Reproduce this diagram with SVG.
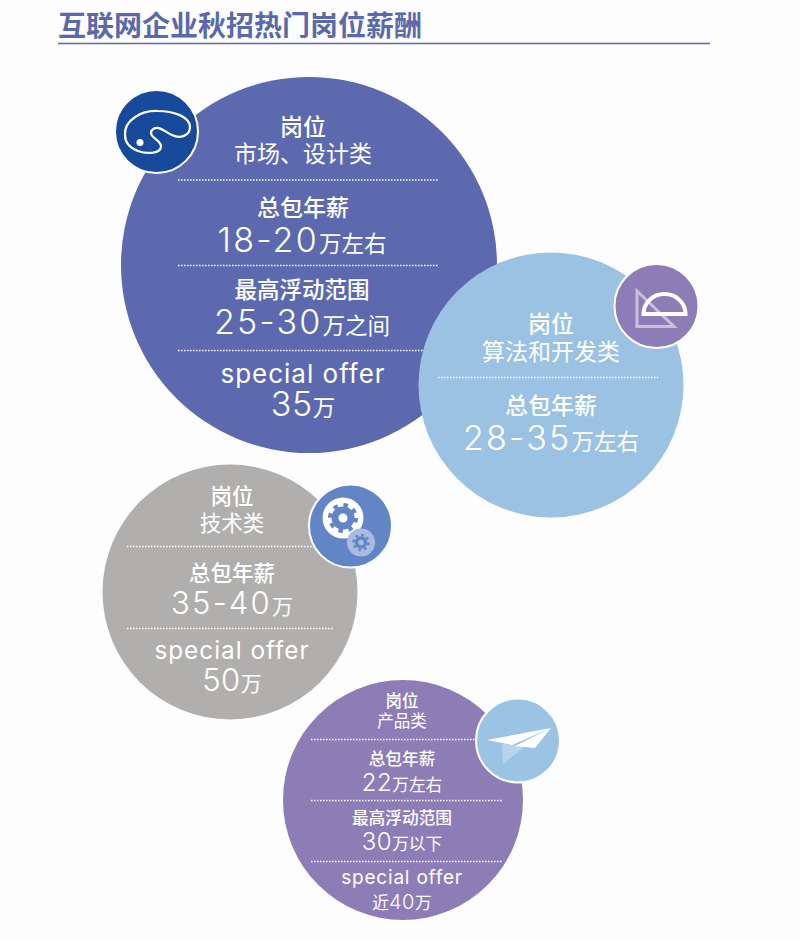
<svg xmlns="http://www.w3.org/2000/svg" width="800" height="942" viewBox="0 0 800 942">
<style>
text{font-family:"Noto Sans CJK SC","Noto Sans",sans-serif;text-anchor:middle;fill:#fff}
.lat{font-family:Inter,"Noto Sans CJK SC",sans-serif;font-weight:400;letter-spacing:1px}
.dig{font-family:Inter,"Noto Sans CJK SC",sans-serif;font-weight:300;letter-spacing:2.200px}
.dig2{font-family:Inter,"Noto Sans CJK SC",sans-serif;font-weight:300;letter-spacing:.5px}
.dot{stroke:#fff;stroke-width:1.5;stroke-dasharray:1.5 1.5;fill:none}
.ring{stroke:#fff;stroke-width:2}
.b{font-weight:500}
</style>
<rect width="800" height="942" fill="#fdfdfe"/>
<g id="title">
<text x="58" y="36" style="text-anchor:start;font-weight:700;font-size:28px;fill:#5a69a9">互联网企业秋招热门岗位薪酬</text>
<line x1="58" y1="43.500" x2="710" y2="43.500" stroke="#5a69a9" stroke-width="1.500"/>
</g>
<g id="node-market">
<circle cx="309" cy="265" r="188" fill="#5c69ae"/>
<text x="303" y="135" font-size="23" class="b">岗位</text>
<text x="303" y="162" font-size="23">市场、设计类</text>
<line class="dot" x1="178" y1="180" x2="438" y2="180"/>
<text x="303" y="216" font-size="23" class="b">总包年薪</text>
<text x="302" y="252" font-size="22.500"><tspan class="dig" font-size="34">18-20</tspan>万左右</text>
<line class="dot" x1="178" y1="265.500" x2="438" y2="265.500"/>
<text x="302" y="298" font-size="22.500" class="b">最高浮动范围</text>
<text x="302" y="334" font-size="22.500"><tspan class="dig" font-size="34">25-30</tspan>万之间</text>
<line class="dot" x1="178" y1="350.500" x2="438" y2="350.500"/>
<text x="303" y="383" font-size="26" class="lat">special offer</text>
<text x="303" y="416" font-size="22.500"><tspan class="dig2" font-size="34">35</tspan>万</text>
</g>
<g id="node-algo">
<circle cx="551" cy="385" r="132.500" fill="#9bc2e2"/>
<text x="551" y="332" font-size="23" class="b">岗位</text>
<text x="551" y="360" font-size="23">算法和开发类</text>
<line class="dot" x1="438" y1="377.500" x2="658" y2="377.500"/>
<text x="551" y="414" font-size="23" class="b">总包年薪</text>
<text x="551" y="450" font-size="22.500"><tspan class="dig" font-size="34">28-35</tspan>万左右</text>
</g>
<g id="node-tech">
<circle cx="230" cy="592" r="127.500" fill="#b0afad"/>
<text x="232" y="504" font-size="21.500" class="b">岗位</text>
<text x="232" y="531" font-size="21.500">技术类</text>
<line class="dot" x1="127" y1="546.500" x2="334" y2="546.500"/>
<text x="232" y="581" font-size="21.500" class="b">总包年薪</text>
<text x="232" y="614" font-size="21"><tspan class="dig" font-size="31">35-40</tspan>万</text>
<line class="dot" x1="127" y1="628.500" x2="334" y2="628.500"/>
<text x="232" y="659" font-size="24.300" class="lat">special offer</text>
<text x="232" y="691" font-size="21"><tspan class="dig2" font-size="31">50</tspan>万</text>
</g>
<g id="node-product">
<circle cx="403" cy="800" r="120" fill="#8d7db7"/>
<text x="402" y="707" font-size="16.500" class="b">岗位</text>
<text x="402" y="727" font-size="16.500">产品类</text>
<line class="dot" x1="311" y1="739.500" x2="502" y2="739.500"/>
<text x="402" y="765" font-size="16.700" class="b">总包年薪</text>
<text x="402" y="791" font-size="16.700"><tspan class="dig2" font-size="24">22</tspan>万左右</text>
<line class="dot" x1="311" y1="800.500" x2="502" y2="800.500"/>
<text x="402" y="824" font-size="16.700" class="b">最高浮动范围</text>
<text x="402" y="850" font-size="16.700"><tspan class="dig2" font-size="24">30</tspan>万以下</text>
<line class="dot" x1="311" y1="861.500" x2="502" y2="861.500"/>
<text x="402" y="884" font-size="19" style="letter-spacing:.8px" class="lat">special offer</text>
<text x="402" y="909" font-size="16.700">近<tspan class="dig2" font-size="20">40</tspan>万</text>
</g>
<g id="icon-market">
<circle class="ring" cx="156.500" cy="131.500" r="41.500" fill="#174a9b"/>
<path d="M125 135C124 120 142 110 158 111C172 111 190 116 190 127C190 136 180 139 172 135C165 132 158 124 152 130C147 137 162 140 161 147C160 154 146 154 138 151C130 148 125 143 125 135Z" fill="none" stroke="#fff" stroke-width="2.200"/>
<circle cx="140" cy="142.500" r="3.500" fill="#fff"/>
</g>
<g id="icon-algo">
<circle class="ring" cx="656.500" cy="306" r="42" fill="#8d7db7"/>
<path d="M637 291V326.500H674Z" fill="none" stroke="#c9c0e0" stroke-width="3"/>
<path d="M643.500 314A21 20 0 0 1 685.500 314Z" fill="none" stroke="#fff" stroke-width="4"/>
</g>
<g id="icon-tech">
<circle class="ring" cx="350.500" cy="526" r="41.500" fill="#6285c5"/>
<circle cx="343" cy="518" r="20.500" fill="#fff"/>
<circle cx="343" cy="518" r="8" fill="none" stroke="#6285c5" stroke-width="7"/>
<circle cx="343" cy="518" r="13" fill="none" stroke="#6285c5" stroke-width="4" stroke-dasharray="4.500 5.710"/>
<circle cx="361" cy="542.500" r="14" fill="#a9bce0"/>
<circle cx="361" cy="542.500" r="4.500" fill="none" stroke="#6285c5" stroke-width="3.500"/>
<circle cx="361" cy="542.500" r="7.500" fill="none" stroke="#6285c5" stroke-width="2.500" stroke-dasharray="2.600 3.290"/>
</g>
<g id="icon-product">
<circle class="ring" cx="518" cy="740.500" r="42" fill="#9bc4e4"/>
<path d="M502 744L503 764L526 746Z" fill="#b7d4ea"/>
<path d="M487 740L551 728L512 745Z" fill="#fff"/>
<path d="M515 746L551 728L535 748Z" fill="#fff"/>
</g>
</svg>
